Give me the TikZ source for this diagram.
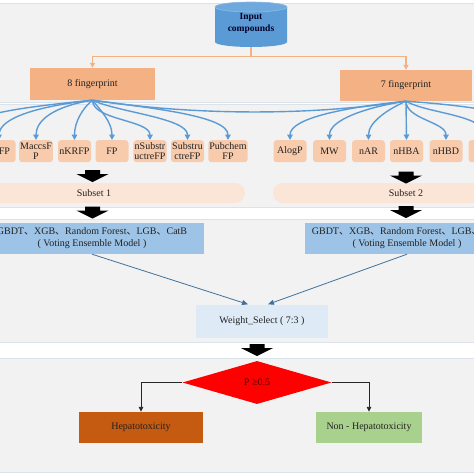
\documentclass[tikz,border=0pt]{standalone}
\usepackage{fontspec}
\setmainfont{Liberation Serif}
\newfontfamily\cjk{Noto Sans CJK SC}
\usetikzlibrary{arrows.meta,shapes.geometric,calc}
\definecolor{bandgray}{HTML}{F2F2F2}
\definecolor{bandline}{HTML}{DCE2EA}
\definecolor{cylblue}{HTML}{5B9BD5}
\definecolor{cyltop}{HTML}{6FA8DC}
\definecolor{cylline}{HTML}{8DBBE6}
\definecolor{fporange}{HTML}{F4B183}
\definecolor{fpline}{HTML}{F4B183}
\definecolor{smallpeach}{HTML}{F8CBAD}
\definecolor{pillpeach}{HTML}{FBE5D6}
\definecolor{arrblue}{HTML}{5B9BD5}
\definecolor{modelblue}{HTML}{9DC3E6}
\definecolor{weightblue}{HTML}{DEEBF7}
\definecolor{steel}{HTML}{41719C}
\definecolor{hepbrown}{HTML}{C55A11}
\definecolor{nongreen}{HTML}{A9D18E}
\definecolor{txt}{HTML}{222222}
\newcommand{\cjkcomma}{{\cjk 、}}
\tikzset{
  band/.style={fill=bandgray, draw=bandline, line width=0.6pt},
  fpbig/.style={fill=fporange, minimum height=32pt, inner sep=0pt, font=\fontsize{10}{12}\selectfont, text=txt},
  fpbox/.style={fill=smallpeach, rounded corners=3pt, minimum width=33pt, minimum height=22pt, inner sep=1pt, align=center, font=\fontsize{10}{9.5}\selectfont, text=txt},
  pillbox/.style={fill=pillpeach, rounded corners=10pt, minimum height=20pt, inner sep=0pt, font=\fontsize{10}{12}\selectfont, text=txt},
  modelbox/.style={fill=modelblue, minimum height=31pt, inner sep=0pt, align=center, font=\fontsize{10}{12}\selectfont, text=txt},
  orangearr/.style={draw=fpline, line width=1.3pt, -{Triangle[length=5pt,width=5pt]}},
  bluearr/.style={draw=arrblue, line width=1.4pt, -{Triangle[length=5.5pt,width=5.5pt]}},
  bluelink/.style={draw=arrblue, line width=1.4pt},
  steelarr/.style={draw=steel, line width=0.8pt, -{Triangle[length=6pt,width=5pt]}},
  blackarr/.style={draw=black!85, line width=0.9pt, -{Triangle[length=5pt,width=4.5pt]}},
  blockarrow/.pic={\fill[black] (-7.5,0) -- (7.5,0) -- (7.5,4) -- (16,4) -- (0,12) -- (-16,4) -- (-7.5,4) -- cycle;}
}
\begin{document}
\begin{tikzpicture}[x=1pt,y=-1pt]
\clip (0,0) rectangle (474,474);
\fill[white] (0,0) rectangle (474,474);
% bands
\filldraw[band] (-2,3) rectangle (476,102);
\filldraw[band] (-2,104) rectangle (476,207);
\filldraw[band] (-2,219) rectangle (476,342);
\filldraw[band] (-2,358) rectangle (476,472);

% cylinder
\fill[cylblue] (215,7) -- (215,42) arc[start angle=180, end angle=0, x radius=36, y radius=5] -- (287,7) arc[start angle=0, end angle=-180, x radius=36, y radius=5] -- cycle;
\filldraw[fill=cyltop, draw=cylline, line width=0.6pt] (251,7) ellipse [x radius=36, y radius=5];
\node[minimum height=48pt, minimum width=72pt, inner sep=0pt, align=center, text=black!85!blue, font=\fontsize{9.5}{12}\selectfont\bfseries] (inp) at (251,23) {Input\\compounds};

% fingerprint boxes
\node[fpbig, minimum width=125pt] (fp8) at (92.5,84) {8 fingerprint};
\node[fpbig, minimum width=132pt, minimum height=31pt] (fp7) at (406,85.5) {7 fingerprint};

\coordinate (split) at (251,56.5);
\draw[draw=fpline, line width=1.3pt] (inp.south) -- (split);
\draw[orangearr] (split) -| (fp8.north);
\draw[orangearr] (split) -| (fp7.north);

% small boxes left
\coordinate (l0) at (-42,140);
\node[fpbox, anchor=north] (l1) at (-1,140) {\makebox[22pt][r]{FP}};
\node[fpbox, anchor=north] (l2) at (36,140) {MaccsF\\P};
\node[fpbox, anchor=north] (l3) at (74.5,140) {nKRFP};
\node[fpbox, anchor=north] (l4) at (112,140) {FP};
\node[fpbox, anchor=north] (l5) at (150,140) {nSubstr\\uctreFP};
\node[fpbox, anchor=north] (l6) at (187.5,140) {Substru\\ctreFP};
\node[fpbox, anchor=north, minimum width=36pt] (l7) at (228,140) {Pubchem\\FP};
% small boxes right
\node[fpbox, anchor=north] (r1) at (290,140) {AlogP};
\node[fpbox, anchor=north] (r2) at (329.5,140) {MW};
\node[fpbox, anchor=north] (r3) at (368.5,140) {nAR};
\node[fpbox, anchor=north] (r4) at (406.5,140) {nHBA};
\node[fpbox, anchor=north] (r5) at (446,140) {nHBD};
\node[fpbox, anchor=north] (r6) at (485,140) {};
\coordinate (r7) at (532,140);

% blue arrows left
\draw[bluelink] (fp8.south) .. controls +(100,15) and +(-100,15) .. (fp7.south);
\draw[bluearr] (fp8.south) .. controls +(-60,6) and +(0,-26) .. (l0);
\draw[bluearr] (fp8.south) .. controls +(-55,6) and +(0,-22) .. (l1.north);
\draw[bluearr] (fp8.south) .. controls +(-38,6) and +(0,-20) .. (l2.north);
\draw[bluearr] (fp8.south) .. controls +(-10,8) and +(0,-18) .. (l3.north);
\draw[bluearr] (fp8.south) .. controls +(8,10) and +(0,-18) .. (l4.north);
\draw[bluearr] (fp8.south) .. controls +(0,20) and +(0,-20) .. (l5.north);
\draw[bluearr] (fp8.south) .. controls +(25,12) and +(0,-22) .. (l6.north);
\draw[bluearr] (fp8.south) .. controls +(60,8) and +(0,-24) .. (l7.north);
% blue arrows right
\draw[bluearr] (fp7.south) .. controls +(-60,6) and +(0,-22) .. (r1.north);
\draw[bluearr] (fp7.south) .. controls +(-40,6) and +(0,-20) .. (r2.north);
\draw[bluearr] (fp7.south) .. controls +(-18,8) and +(0,-18) .. (r3.north);
\draw[bluearr] (fp7.south) -- (r4.north);
\draw[bluearr] (fp7.south) .. controls +(0,18) and +(0,-18) .. (r5.north);
\draw[bluearr] (fp7.south) .. controls +(20,12) and +(0,-25) .. (r6.north);
\draw[bluearr] (fp7.south) .. controls +(55,4) and +(0,-28) .. (r7);

% subsets
\node[pillbox, minimum width=305pt] (s1) at (92.5,193) {\hspace*{3pt}Subset 1};
\node[pillbox, minimum width=266pt] (s2) at (406,193) {Subset 2};

% block arrows
\pic at (92.5,170) {blockarrow};
\pic at (92.5,206.5) {blockarrow};
\pic at (406,171.5) {blockarrow};
\pic at (406,206) {blockarrow};
\pic at (257,344) {blockarrow};

% models
\node[modelbox, minimum width=224pt] (m1) at (92,238.5) {GBDT\cjkcomma XGB\cjkcomma Random Forest\cjkcomma LGB\cjkcomma CatB\\( Voting Ensemble Model )};
\node[modelbox, minimum width=204pt] (m2) at (407,238.5) {GBDT\cjkcomma XGB\cjkcomma Random Forest\cjkcomma LGB\cjkcomma CatB\\( Voting Ensemble Model )};

% weight select
\node[fill=weightblue, minimum width=132pt, minimum height=33pt, inner sep=0pt, font=\fontsize{10}{12}\selectfont, text=txt] (w) at (262,321) {Weight\_Select ( 7:3 )};
\draw[steelarr] (m1.south) -- ($(w.north)+(-14,0)$);
\draw[steelarr] (m2.south) -- ($(w.north)+(6,0)$);

% decision
\node[diamond, fill=red, minimum width=149pt, minimum height=43pt, inner sep=0pt, aspect=3.4, font=\fontsize{10}{12}\selectfont, text=black!70!red] (d) at (257,382.5) {P ≥0.5};
\node[fill=hepbrown, minimum width=124pt, minimum height=31pt, inner sep=0pt, font=\fontsize{10}{12}\selectfont, text=txt] (hep) at (141,427.5) {Hepatotoxicity};
\node[fill=nongreen, minimum width=106pt, minimum height=31pt, inner sep=0pt, font=\fontsize{10}{12}\selectfont, text=txt] (non) at (369,427.5) {Non - Hepatotoxicity};
\draw[blackarr] (d.west) -| (hep.north);
\draw[blackarr] (d.east) -| (non.north);
\end{tikzpicture}
\end{document}
